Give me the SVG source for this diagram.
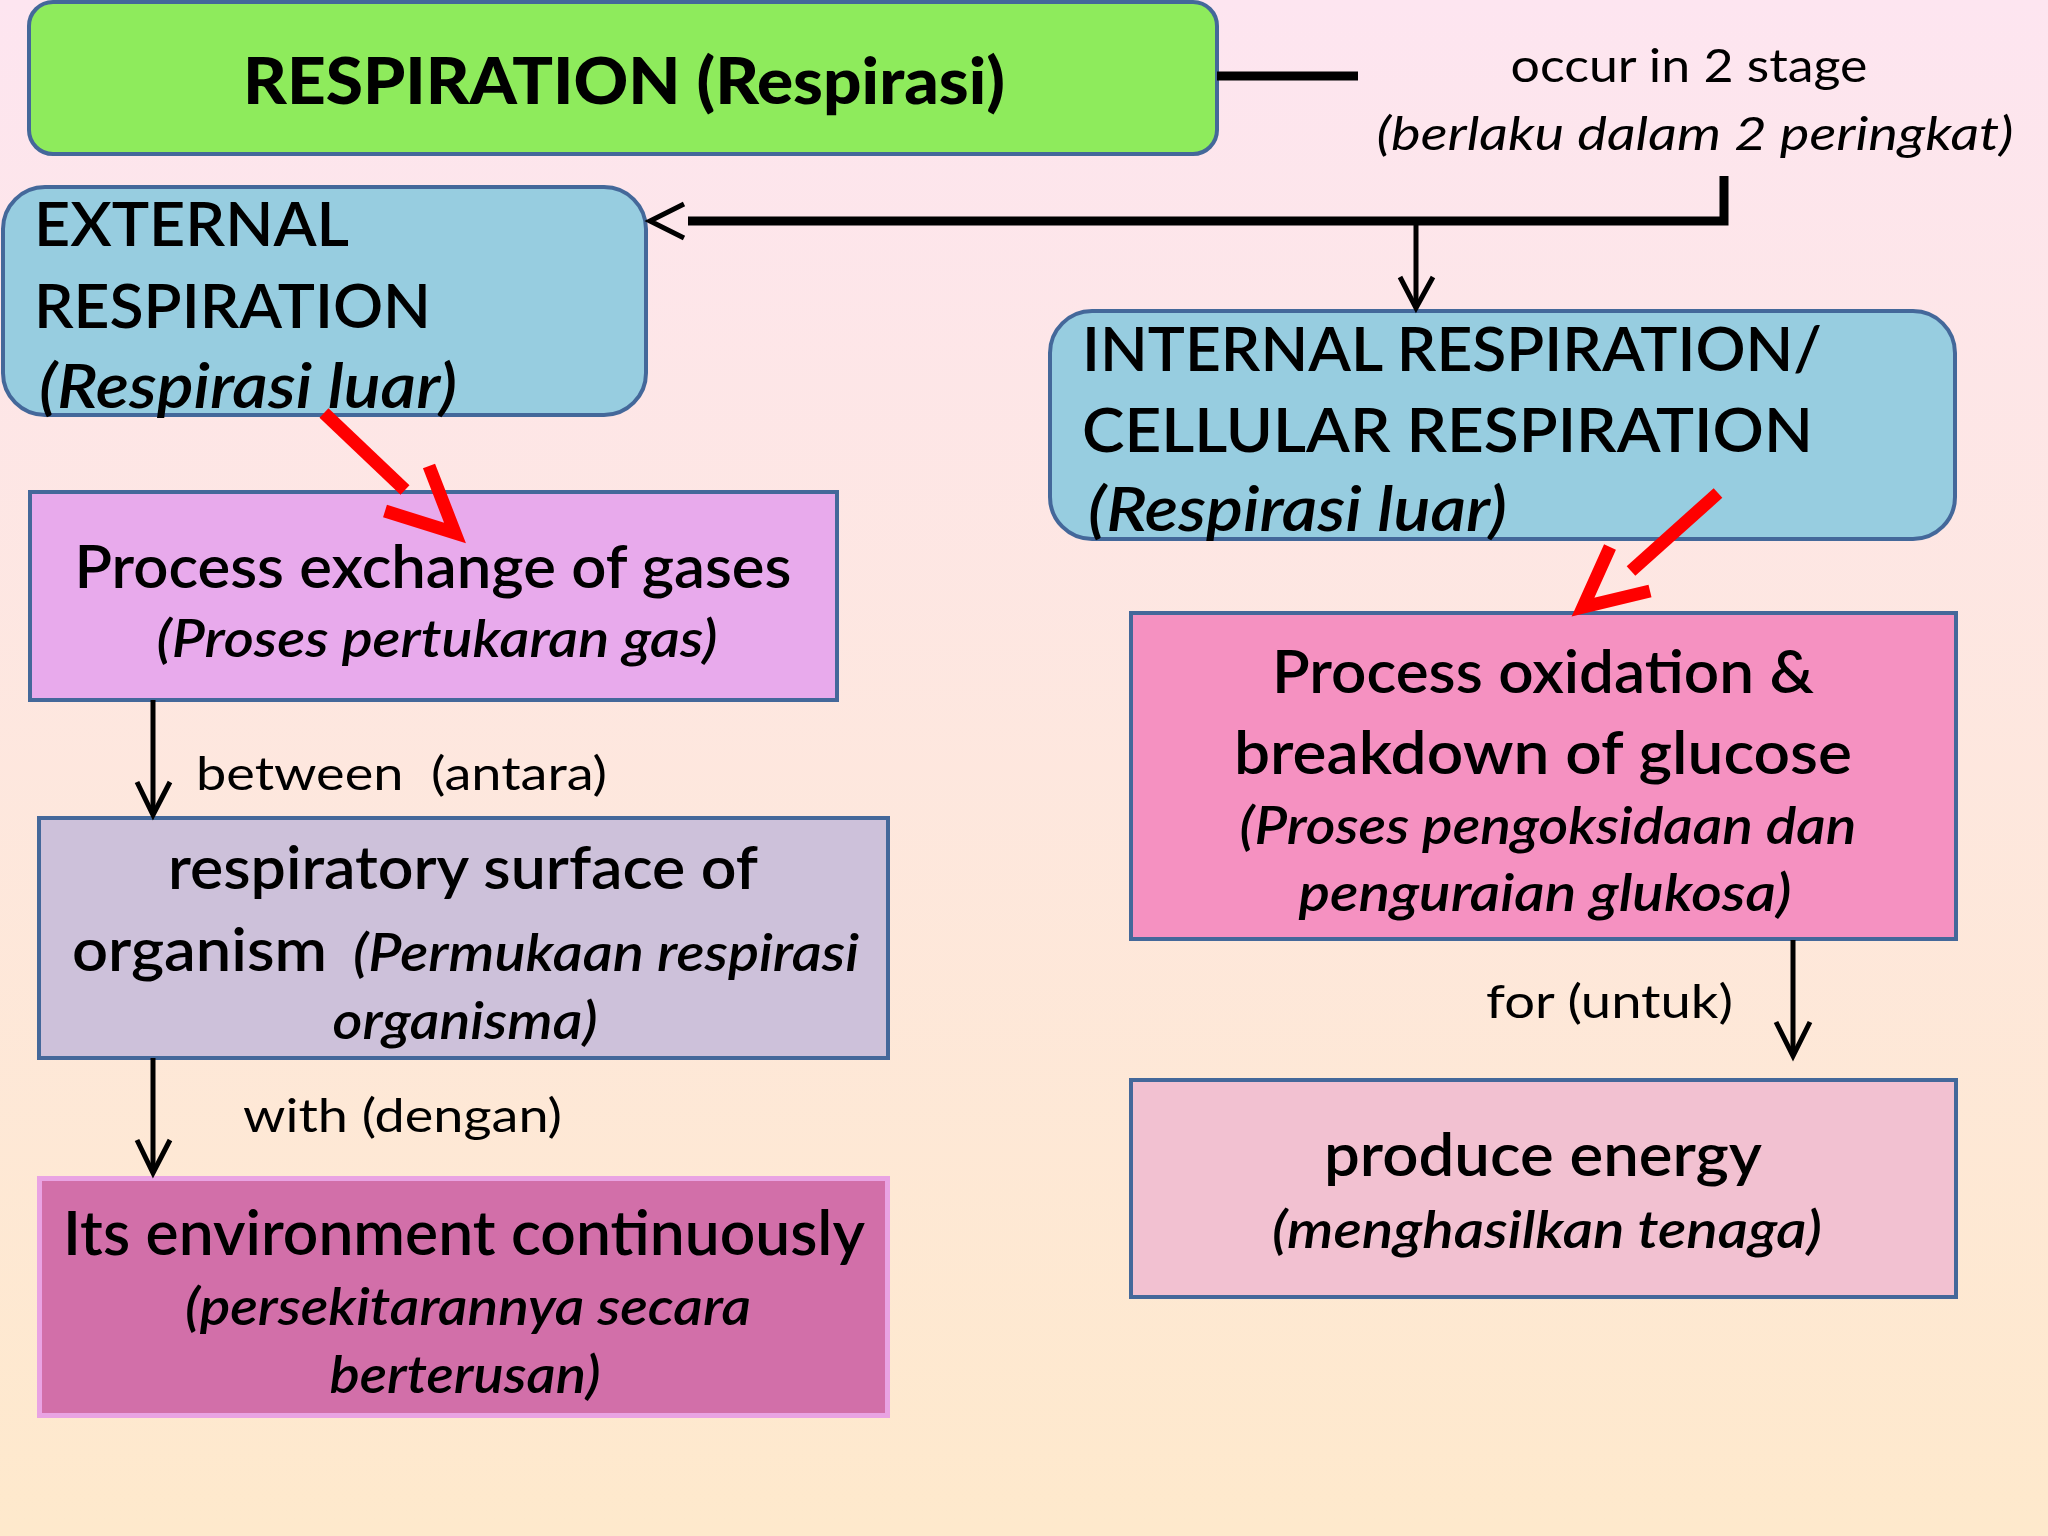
<svg xmlns="http://www.w3.org/2000/svg" width="2048" height="1536" viewBox="0 0 2048 1536">
<defs>
<linearGradient id="bg" x1="0" y1="0" x2="0" y2="1">
<stop offset="0" stop-color="#fde5f0"/>
<stop offset="1" stop-color="#fee9cc"/>
</linearGradient>
<style>
.box{stroke:#44689a;stroke-width:4}
.n{font-family:Lato,"Open Sans","Liberation Sans",sans-serif;font-weight:600;fill:#000}
.t{font-family:Lato,"Open Sans","Liberation Sans",sans-serif;font-weight:900;fill:#000}
.i{font-style:italic}
.lbl{font-family:Lato,"Open Sans","Liberation Sans",sans-serif;font-size:46px;fill:#000;white-space:pre}
.k{fill:none;stroke:#000}
.red{fill:none;stroke:#ff0000;stroke-width:13;stroke-linejoin:miter}
</style>
</defs>
<rect width="2048" height="1536" fill="url(#bg)"/>

<g id="label-stage">
<text class="lbl" x="1689" y="82" text-anchor="middle" textLength="357" lengthAdjust="spacingAndGlyphs">occur in 2 stage</text>
<text class="lbl i" x="1695" y="150" text-anchor="middle" textLength="637" lengthAdjust="spacingAndGlyphs">(berlaku dalam 2 peringkat)</text>
</g>
<g id="label-between"><text class="lbl" x="196" y="790" textLength="411" lengthAdjust="spacingAndGlyphs" xml:space="preserve">between  (antara)</text></g>
<g id="label-with"><text class="lbl" x="243" y="1132" textLength="319" lengthAdjust="spacingAndGlyphs">with (dengan)</text></g>
<g id="label-for"><text class="lbl" x="1486" y="1018" textLength="247" lengthAdjust="spacingAndGlyphs">for (untuk)</text></g>

<g id="respiration">
<rect class="box" x="29" y="2" width="1188" height="152" rx="24" fill="#8eeb5c"/>
<text class="t" x="624" y="104" font-size="64" text-anchor="middle" textLength="762" lengthAdjust="spacingAndGlyphs">RESPIRATION (Respirasi)</text>
</g>

<g id="external">
<rect class="box" x="3" y="187" width="643" height="228" rx="42" fill="#97cde0"/>
<text class="n" x="34" y="246" font-size="62" textLength="315" lengthAdjust="spacingAndGlyphs">EXTERNAL</text>
<text class="n" x="34" y="328" font-size="62" textLength="397" lengthAdjust="spacingAndGlyphs">RESPIRATION</text>
<text class="n i" x="39" y="408" font-size="62" textLength="418" lengthAdjust="spacingAndGlyphs">(Respirasi luar)</text>
</g>

<g id="internal">
<rect class="box" x="1050" y="311" width="905" height="228" rx="42" fill="#97cde0"/>
<text class="n" x="1082" y="371" font-size="62" textLength="740" lengthAdjust="spacingAndGlyphs">INTERNAL RESPIRATION/</text>
<text class="n" x="1082" y="452" font-size="62" textLength="731" lengthAdjust="spacingAndGlyphs">CELLULAR RESPIRATION</text>
<text class="n i" x="1088" y="531" font-size="62" textLength="419" lengthAdjust="spacingAndGlyphs">(Respirasi luar)</text>
</g>

<g id="exchange">
<rect class="box" x="30" y="492" width="807" height="208" fill="#e8aaec"/>
<text class="n" x="433" y="588" font-size="60" text-anchor="middle" textLength="717" lengthAdjust="spacingAndGlyphs">Process exchange of gases</text>
<text class="n i" x="437" y="657" font-size="52" text-anchor="middle" textLength="561" lengthAdjust="spacingAndGlyphs">(Proses pertukaran gas)</text>
</g>

<g id="surface">
<rect class="box" x="39" y="818" width="849" height="240" fill="#cdc1da"/>
<text class="n" x="463" y="889" font-size="60" text-anchor="middle" textLength="590" lengthAdjust="spacingAndGlyphs">respiratory surface of</text>
<text class="n" x="72" y="971" font-size="60" textLength="255" lengthAdjust="spacingAndGlyphs">organism</text>
<text class="n i" x="353" y="971" font-size="52" textLength="506" lengthAdjust="spacingAndGlyphs">(Permukaan respirasi</text>
<text class="n i" x="465" y="1039" font-size="52" text-anchor="middle" textLength="265" lengthAdjust="spacingAndGlyphs">organisma)</text>
</g>

<g id="environment">
<rect x="39.5" y="1178.5" width="848" height="237" fill="#d26fa9" stroke="#e9a3e3" stroke-width="5"/>
<text class="n" x="464" y="1255" font-size="62" text-anchor="middle" textLength="802" lengthAdjust="spacingAndGlyphs">Its environment continuously</text>
<text class="n i" x="468" y="1325" font-size="52" text-anchor="middle" textLength="566" lengthAdjust="spacingAndGlyphs">(persekitarannya secara</text>
<text class="n i" x="465" y="1393" font-size="52" text-anchor="middle" textLength="271" lengthAdjust="spacingAndGlyphs">berterusan)</text>
</g>

<g id="oxidation">
<rect class="box" x="1131" y="613" width="825" height="326" fill="#f591c1"/>
<text class="n" x="1543" y="693" font-size="60" text-anchor="middle" textLength="542" lengthAdjust="spacingAndGlyphs">Process oxidation &amp;</text>
<text class="n" x="1543" y="774" font-size="60" text-anchor="middle" textLength="618" lengthAdjust="spacingAndGlyphs">breakdown of glucose</text>
<text class="n i" x="1548" y="844" font-size="52" text-anchor="middle" textLength="617" lengthAdjust="spacingAndGlyphs">(Proses pengoksidaan dan</text>
<text class="n i" x="1545" y="911" font-size="52" text-anchor="middle" textLength="493" lengthAdjust="spacingAndGlyphs">penguraian glukosa)</text>
</g>

<g id="energy">
<rect class="box" x="1131" y="1080" width="825" height="217" fill="#f2c1d1"/>
<text class="n" x="1543" y="1176" font-size="60" text-anchor="middle" textLength="438" lengthAdjust="spacingAndGlyphs">produce energy</text>
<text class="n i" x="1547" y="1248" font-size="52" text-anchor="middle" textLength="550" lengthAdjust="spacingAndGlyphs">(menghasilkan tenaga)</text>
</g>

<g id="connectors">
<path class="k" d="M1217,76 H1358" stroke-width="9"/>
<path class="k" d="M1724,176 V221 H688" stroke-width="9"/>
<polyline class="k" points="684,204 650,221 684,238" stroke-width="5"/>
<path class="k" d="M1416,221 V305" stroke-width="5"/>
<polyline class="k" points="1400,277 1416,308 1433,277" stroke-width="5"/>
<path class="k" d="M153,700 V812" stroke-width="5"/>
<polyline class="k" points="137,782 153,815 170,782" stroke-width="5"/>
<path class="k" d="M153,1058 V1170" stroke-width="5"/>
<polyline class="k" points="137,1140 153,1173 170,1140" stroke-width="5"/>
<path class="k" d="M1793,940 V1054" stroke-width="5"/>
<polyline class="k" points="1776,1022 1793,1056 1810,1022" stroke-width="5"/>
<path class="red" d="M324,413 L405,490"/>
<polyline class="red" points="429,466 455,533 385,511"/>
<path class="red" d="M1718,493 L1631,571"/>
<polyline class="red" points="1610,547 1583,607 1650,591"/>
</g>
</svg>
